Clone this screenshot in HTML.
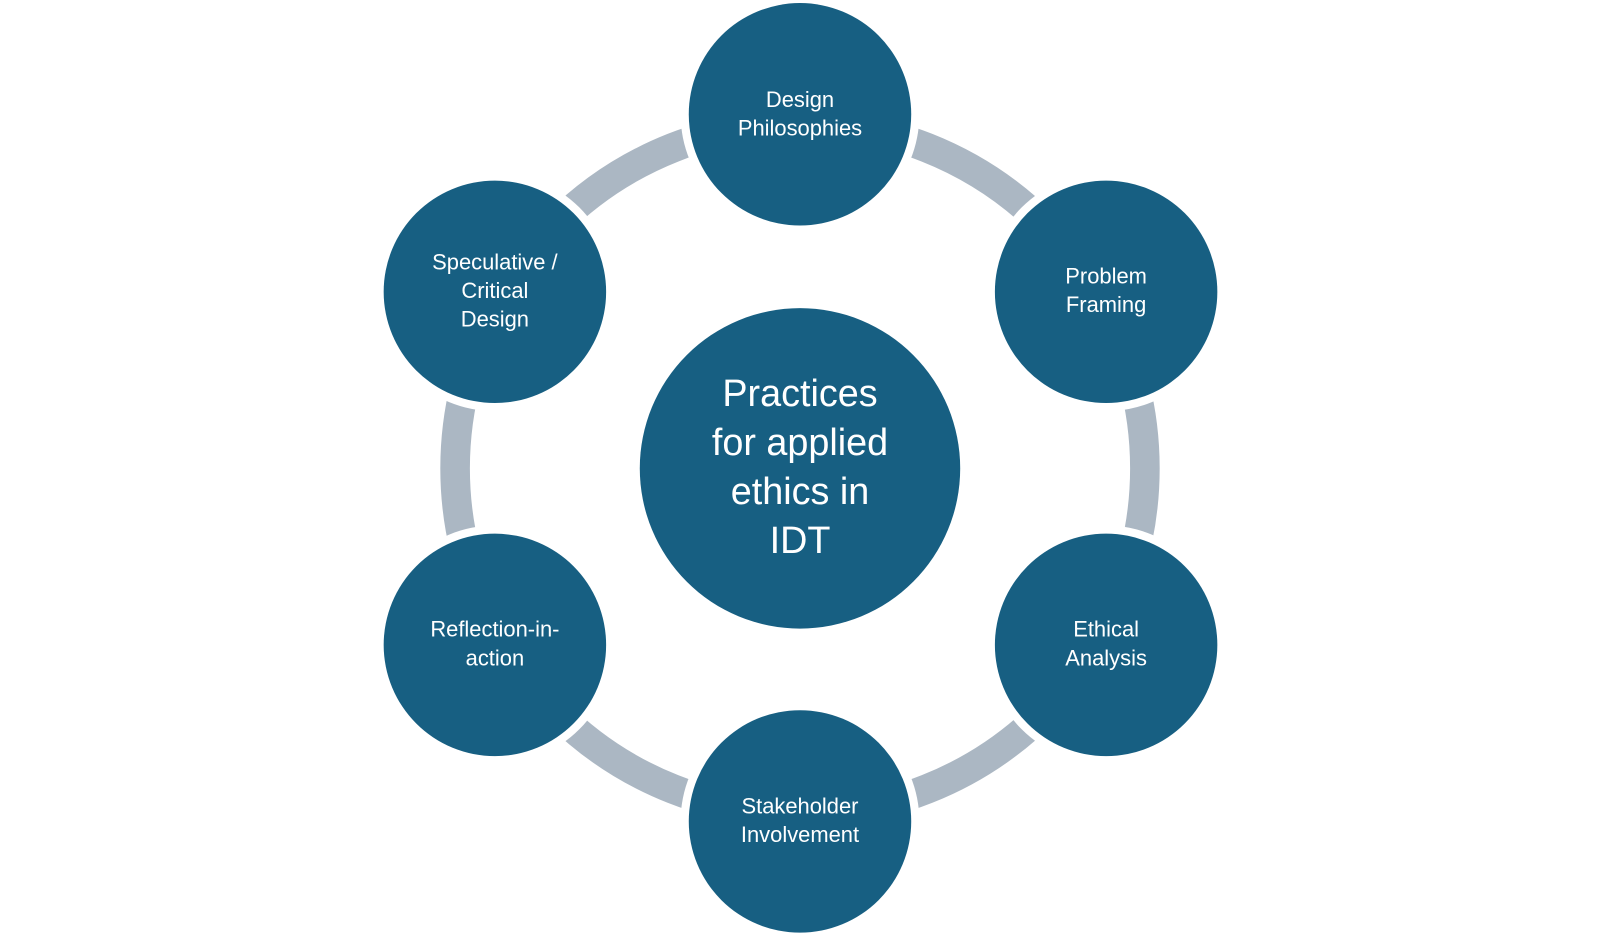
<!DOCTYPE html>
<html><head><meta charset="utf-8"><style>
html,body{margin:0;padding:0;background:#fff;}
svg{display:block;}
text{font-family:"Liberation Sans","DejaVu Sans",sans-serif;fill:#fff;text-anchor:middle;}
</style></head><body>
<svg width="1600" height="937" viewBox="0 0 1600 937" xmlns="http://www.w3.org/2000/svg">
<rect width="1600" height="937" fill="#fff"/>
<g transform="scale(1.0204)">
<circle cx="784" cy="459" r="338" fill="none" stroke="#abb7c3" stroke-width="29"/>
<g fill="#fff">
<circle cx="784" cy="112" r="117"/>
<circle cx="1084" cy="286" r="117"/>
<circle cx="1084" cy="632" r="117"/>
<circle cx="784" cy="805" r="117"/>
<circle cx="485" cy="632" r="117"/>
<circle cx="485" cy="286" r="117"/>
</g>
<g fill="#175f82">
<circle cx="784" cy="459" r="157"/>
<circle cx="784" cy="112" r="109"/>
<circle cx="1084" cy="286" r="109"/>
<circle cx="1084" cy="632" r="109"/>
<circle cx="784" cy="805" r="109"/>
<circle cx="485" cy="632" r="109"/>
<circle cx="485" cy="286" r="109"/>
</g>
<g font-size="37">
<text x="784" y="398">Practices</text>
<text x="784" y="446">for applied</text>
<text x="784" y="494">ethics in</text>
<text x="784" y="542">IDT</text>
</g>
<g font-size="21.5">
<text x="784" y="105">Design</text>
<text x="784" y="133">Philosophies</text>
<text x="1084" y="278">Problem</text>
<text x="1084" y="306">Framing</text>
<text x="1084" y="624">Ethical</text>
<text x="1084" y="652">Analysis</text>
<text x="784" y="797">Stakeholder</text>
<text x="784" y="825">Involvement</text>
<text x="485" y="624">Reflection-in-</text>
<text x="485" y="652">action</text>
<text x="485" y="264">Speculative /</text>
<text x="485" y="292">Critical</text>
<text x="485" y="320">Design</text>
</g>
</g>
</svg>
</body></html>
